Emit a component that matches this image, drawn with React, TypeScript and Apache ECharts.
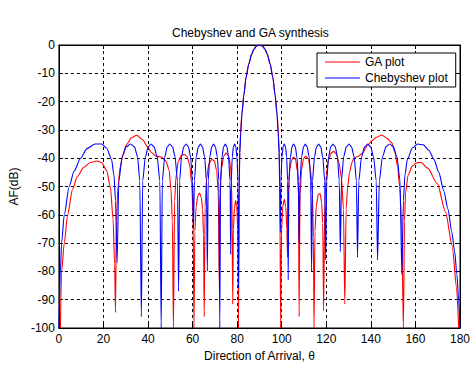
import React, { useEffect, useRef } from "react";
import * as echarts from "echarts";

// Direction of arrival (deg) and array factor (dB)
const gaTheta = [
  0.66, 1.2, 2.4, 3.9, 6.1, 8.2, 11.2, 14.1, 17, 19.2, 21.4, 23.1, 24.3, 25, 25.4,
  25.8, 26.5, 27.5, 28.8, 30.5, 32.5, 35, 37.5, 39.8, 41.5, 43.5, 46, 48, 49.4, 50.3, 50.9, 51.4,
  51.9, 52.6, 53.6, 55, 56.3, 57.6, 58.7, 59.6, 60.2, 60.6,
  61, 61.6, 62.3, 63.1, 63.9, 64.5, 64.9, 65.2,
  65.6, 66.3, 67.3, 68.6, 69.8, 70.8, 71.5, 72,
  72.4, 73, 73.9, 75, 76.1, 77, 77.6, 78,
  78.3, 78.8, 79.3, 79.8, 80.3, 80.6,
  80.9, 81.3, 82, 83, 84, 85.2, 86.5, 87.5, 88.7, 90, 91.3, 92.5, 93.5, 94.8, 96, 97, 98, 98.7, 99.1, 99.5,
  99.9, 100.4, 101.1, 101.8, 102.3, 102.6,
  103, 103.6, 104.4, 105.3, 106.2, 107, 107.5, 107.8,
  108.2, 108.9, 109.8, 110.8, 111.9, 112.9, 113.8, 114.2, 114.5,
  114.9, 115.5, 116.4, 117.2, 117.9, 118.4, 118.8,
  119.3, 120, 121, 122.2, 123.3, 124.5, 125.7, 126.8, 127.7, 128.3,
  128.9, 129.6, 130.4, 131.5, 132.6, 134.2, 136, 138.5, 140.5, 142.5, 144.9, 147.3, 149.4, 150.8, 152, 152.9, 153.8, 154.6,
  155.1, 155.6, 156.7, 158.6, 160.6, 162.6, 165.5, 169.8, 173.5, 176.5, 178.5, 179.4,
];
const gaDb = [
  -100, -80, -70, -60, -51, -46.6, -43.2, -41.5, -41, -41.5, -44.4, -50.1, -61.5, -77.4, -94.5,
  -62, -50, -43, -38.5, -35, -32.8, -31.9, -33.4, -36, -38, -39.3, -39.6, -41, -44, -51, -62, -100,
  -55, -46, -41, -39, -38.6, -39.5, -42.5, -49, -60, -100,
  -66, -57, -53.5, -52.3, -53.8, -58, -67, -96,
  -57, -47, -42, -40.4, -41, -44.5, -52, -86,
  -52, -43.5, -39.3, -38.2, -39, -42.5, -50, -91.6,
  -65, -57.5, -55, -57, -66, -100,
  -45, -34, -25, -17.5, -11.3, -6.6, -3.2, -1.4, -0.3, 0, -0.3, -1.4, -3.2, -6.6, -11.3, -17.5, -25, -34, -45, -100,
  -66, -57.5, -54.5, -57, -65, -75,
  -52, -44, -40.8, -39.6, -40.5, -44.5, -53, -96,
  -53, -44, -40, -39.2, -40.2, -44, -53, -68, -100,
  -66, -57, -52.8, -52.5, -55.5, -63, -94,
  -56, -46, -40.5, -38.2, -37.6, -38.5, -41.5, -47, -58, -91.6,
  -58, -50, -45, -41.5, -39.8, -39.4, -38.4, -35.5, -33.8, -32.6, -31.8, -33, -34.6, -38, -43, -50, -64, -100,
  -62, -52, -46, -42.8, -41.6, -41.5, -43.5, -49, -59, -71, -86, -100,
];

const chebTheta = [
  0, 0.66, 1.2, 2.4, 4.6, 6.8, 9.7, 12.6, 16.3, 19.2, 21.4, 23.6, 24.7, 25.4, 26.1,
  26.9, 28.4, 30.1, 32.2, 33.9, 35.3, 36.3, 37,
  37.6, 38.8, 40.1, 41.3, 42.7, 44.1, 45.3, 45.9,
  46.4, 47.5, 48.6, 49.8, 51, 52.1, 53.2, 53.7,
  54.2, 55, 56, 57.1, 58.1, 59.1, 59.9, 60.4,
  60.8, 61.6, 62.6, 63.5, 64.4, 65.4, 66.2, 66.6,
  67, 67.7, 68.6, 69.4, 70.2, 71.1, 71.8, 72.2,
  72.5, 73.2, 73.9, 74.7, 75.4, 76.1, 76.8, 77.1,
  77.35, 77.8, 78.3, 78.9, 79.4, 79.9, 80.35, 80.6,
  80.9, 81.2, 81.6, 82.2, 83, 84, 85.2, 86.5, 87.5, 88.7, 90, 91.3, 92.5, 93.5, 94.8, 96, 97, 97.8, 98.4, 98.8, 99.1, 99.4,
  99.65, 100.1, 100.6, 101.1, 101.7, 102.2, 102.65, 102.9,
  103.2, 103.9, 104.6, 105.3, 106.1, 106.8, 107.5, 107.8,
  108.2, 108.9, 109.8, 110.6, 111.4, 112.3, 113, 113.4,
  113.8, 114.7, 115.6, 116.6, 117.5, 118.4, 119.3, 119.7,
  120.2, 121, 122, 123, 124, 125, 125.8, 126.3,
  126.8, 127.8, 129, 130.2, 131.3, 132.5, 133.5, 134,
  134.6, 135.8, 137.2, 138.5, 139.9, 141.2, 142.4, 143,
  143.8, 145.2, 146.8, 148.4, 150.1, 151.7, 153.1, 153.9,
  154.6, 155.3, 156.4, 158.6, 160.9, 163.6, 166, 168.3, 170.5, 172.7, 174.6, 176.3, 177.6, 178.6, 179.4, 180,
];
const chebDb = [
  -100, -80, -70, -60, -50, -44.6, -40, -36.6, -35, -35, -36.4, -40.4, -45.9, -55, -77,
  -48, -39.5, -36, -35, -36, -39.5, -48, -96,
  -48, -39.5, -36, -35, -36, -39.5, -48, -100,
  -48, -39.5, -36, -35, -36, -39.5, -48, -87,
  -48, -39.5, -36, -35, -36, -39.5, -48, -65,
  -48, -39.5, -36, -35, -36, -39.5, -48, -80,
  -48, -39.5, -36, -35, -36, -39.5, -48, -100,
  -48, -39.5, -36, -35, -36, -39.5, -48, -74,
  -48, -39.5, -36, -35, -36, -39.5, -48, -86,
  -50, -38, -31, -24, -17.6, -11.5, -6.8, -3.3, -1.5, -0.35, 0, -0.35, -1.5, -3.3, -6.8, -11.5, -17.6, -24, -31, -38, -50, -66,
  -48, -39.5, -36, -35, -36, -39.5, -48, -83,
  -48, -39.5, -36, -35, -36, -39.5, -48, -70,
  -48, -39.5, -36, -35, -36, -39.5, -48, -80,
  -48, -39.5, -36, -35, -36, -39.5, -48, -76,
  -48, -39.5, -36, -35, -36, -39.5, -48, -73,
  -48, -39.5, -36, -35, -36, -39.5, -48, -75,
  -48, -39.5, -36, -35, -36, -39.5, -48, -76,
  -48, -39.5, -36, -35, -36, -39.5, -48, -81,
  -55, -45.9, -40.4, -36.4, -35, -35.3, -37.2, -40.4, -45, -51.5, -58, -66, -73, -81, -90, -100,
];

const seriesNames = ["GA plot", "Chebyshev plot"];
const seriesColors = ["#ff0000", "#0000ff"];

export default function App() {
  const ref = useRef<HTMLDivElement>(null);
  useEffect(() => {
    const chart = echarts.init(ref.current as HTMLDivElement, null, { renderer: "svg" });
    const font = "'Liberation Sans', Arial, Helvetica, sans-serif";
    const zip = (t: number[], d: number[]) => t.map((v, i) => [v, d[i]]);
    const labelStyle = { color: "#000", fontSize: 12, fontFamily: font };
    const gridLine = { show: true, lineStyle: { color: "#000", type: [3, 3], width: 1 } };
    const axisLine = { show: true, onZero: false, lineStyle: { color: "#000", width: 1 } };
    const tick = { show: true, inside: true, length: 4, lineStyle: { color: "#000" } };
    chart.setOption({
      animation: false,
      backgroundColor: "#fff",
      title: {
        text: "Chebyshev and GA synthesis",
        left: 172,
        top: 27,
        padding: 0,
        textStyle: { ...labelStyle, fontWeight: "normal" },
      },
      legend: {
        orient: "vertical",
        left: 317,
        top: 53,
        padding: [2, 8, 2, 8],
        itemGap: 2,
        itemWidth: 35,
        itemHeight: 1,
        icon: "rect",
        backgroundColor: "#fff",
        borderColor: "#000",
        borderWidth: 1,
        borderRadius: 0,
        textStyle: { ...labelStyle, lineHeight: 14 },
        data: seriesNames,
      },
      grid: {
        left: 48,
        top: 45,
        width: 412,
        height: 293,
        show: true,
        borderColor: "#000",
        borderWidth: 1,
        backgroundColor: "transparent",
      },
      xAxis: [
        {
          type: "value",
          min: 0,
          max: 180,
          interval: 20,
          position: "bottom",
          name: "Direction of Arrival, θ",
          nameLocation: "middle",
          nameGap: 22,
          nameTextStyle: labelStyle,
          axisLine,
          axisTick: tick,
          axisLabel: { ...labelStyle, margin: 5 },
          splitLine: gridLine,
        },
        {
          type: "value",
          min: 0,
          max: 180,
          interval: 20,
          position: "top",
          axisLine,
          axisTick: tick,
          axisLabel: { show: false },
          splitLine: { show: false },
        },
      ],
      yAxis: [
        {
          type: "value",
          min: -100,
          max: 0,
          interval: 10,
          position: "left",
          name: "AF(dB)",
          nameLocation: "middle",
          nameRotate: 90,
          nameGap: 36,
          nameTextStyle: labelStyle,
          axisLine,
          axisTick: tick,
          axisLabel: { ...labelStyle, margin: 4 },
          splitLine: gridLine,
        },
        {
          type: "value",
          min: -100,
          max: 0,
          interval: 10,
          position: "right",
          axisLine,
          axisTick: tick,
          axisLabel: { show: false },
          splitLine: { show: false },
        },
      ],
      series: [
        {
          type: "line",
          name: seriesNames[0],
          data: zip(gaTheta, gaDb),
          symbol: "none",
          smooth: 0.25,
          smoothMonotone: "x",
          xAxisIndex: 0,
          yAxisIndex: 0,
          lineStyle: { color: seriesColors[0], width: 1.1 },
          itemStyle: { color: seriesColors[0] },
        },
        {
          type: "line",
          name: seriesNames[1],
          data: zip(chebTheta, chebDb),
          symbol: "none",
          smooth: 0.25,
          smoothMonotone: "x",
          xAxisIndex: 0,
          yAxisIndex: 0,
          lineStyle: { color: seriesColors[1], width: 1.1 },
          itemStyle: { color: seriesColors[1] },
        },
      ],
    });
    return () => chart.dispose();
  }, []);
  return (
    <div
      ref={ref}
      style={{ position: "absolute", left: 0, top: 0, width: 474, height: 367, background: "#fff" }}
    />
  );
}
